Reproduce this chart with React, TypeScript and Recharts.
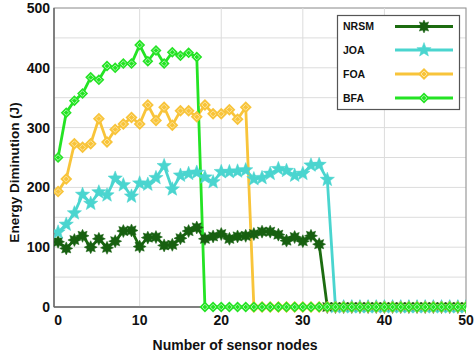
import React from 'react';
import { LineChart, Line, XAxis, YAxis, CartesianGrid, ReferenceArea, ReferenceLine, Label } from 'recharts';

const nodes = [
  0, 1, 2, 3, 4, 5, 6, 7, 8, 9, 10, 11, 12, 13, 14, 15, 16, 17, 18, 19, 20, 21, 22, 23, 24, 25,
  26, 27, 28, 29, 30, 31, 32, 33, 34, 35, 36, 37, 38, 39, 40, 41, 42, 43, 44, 45, 46, 47, 48, 49, 50,
];

const nrsm = [
  109, 98, 112, 119, 100, 114, 99, 110, 127, 128, 101, 116, 117, 103, 104, 115, 127, 133, 114, 118,
  122, 114, 118, 119, 122, 126, 126, 121, 111, 117, 110, 119, 105,
  0, 0, 0, 0, 0, 0, 0, 0, 0, 0, 0, 0, 0, 0, 0, 0, 0, 0,
];

const joa = [
  125, 138, 157, 188, 173, 192, 187, 215, 204, 185, 207, 205, 216, 236, 197, 220, 223, 225, 217, 209,
  226, 226, 227, 229, 214, 216, 223, 231, 228, 220, 223, 237, 238, 213,
  0, 0, 0, 0, 0, 0, 0, 0, 0, 0, 0, 0, 0, 0, 0, 0, 0,
];

const foa = [
  193, 214, 273, 267, 273, 315, 276, 297, 306, 317, 306, 338, 312, 334, 304, 328, 328, 318, 338, 323,
  323, 330, 314, 334,
  0, 0, 0, 0, 0, 0, 0, 0, 0, 0, 0, 0, 0, 0, 0, 0, 0, 0, 0, 0, 0, 0, 0, 0, 0, 0, 0,
];

const bfa = [
  250, 325, 345, 357, 384, 380, 403, 400, 407, 407, 438, 411, 429, 407, 426, 420, 425, 418,
  0, 0, 0, 0, 0, 0, 0, 0, 0, 0, 0, 0, 0, 0, 0, 0, 0, 0, 0, 0, 0, 0, 0, 0, 0, 0, 0, 0, 0, 0, 0, 0, 0,
];

const xTicks = [0, 10, 20, 30, 40, 50];
const yTicks = [0, 50, 100, 150, 200, 250, 300, 350, 400, 450, 500];
const gridX = [10, 20, 30, 40];

const series = [
  { key: 'nrsm', name: 'NRSM', color: '#1c6c10' },
  { key: 'joa', name: 'JOA', color: '#4ad5cf' },
  { key: 'foa', name: 'FOA', color: '#f8c43a' },
  { key: 'bfa', name: 'BFA', color: '#24e324' },
];

const data = nodes.map((n, i) => ({ n, nrsm: nrsm[i], joa: joa[i], foa: foa[i], bfa: bfa[i] }));

const FONT = '"Liberation Sans", Arial, sans-serif';

const starPath = (cx: number, cy: number, n: number, R: number, r: number) => {
  let d = '';
  for (let k = 0; k < 2 * n; k++) {
    const a = -Math.PI / 2 + (k * Math.PI) / n;
    const rad = k % 2 === 0 ? R : r;
    d += (k ? 'L' : 'M') + (cx + rad * Math.cos(a)).toFixed(2) + ',' + (cy + rad * Math.sin(a)).toFixed(2);
  }
  return d + 'Z';
};

const diamond = (cx: number, cy: number, s: number) =>
  `M${cx},${cy - s}L${cx + s},${cy}L${cx},${cy + s}L${cx - s},${cy}Z`;

function Marker({ kind, cx, cy }: { kind: string; cx: number; cy: number }) {
  if (cx == null || cy == null) return null;
  if (kind === 'nrsm') {
    return <path d={starPath(cx, cy, 8, 6.5, 3.8)} fill="#176010" stroke="#176010" strokeWidth={0.5} />;
  }
  if (kind === 'joa') {
    return <path d={starPath(cx, cy, 5, 7.5, 3.2)} fill="#4ad5cf" stroke="#4ad5cf" strokeWidth={0.5} />;
  }
  if (kind === 'foa') {
    return (
      <g>
        <path d={diamond(cx, cy, 6)} fill="#f8c43a" />
        <path d={diamond(cx, cy, 3)} fill="none" stroke="#fde39a" strokeWidth={1} />
      </g>
    );
  }
  return (
    <g>
      <path d={diamond(cx, cy, 5.5)} fill="#24e324" />
      <path d={diamond(cx, cy, 2.8)} fill="none" stroke="#a6f7a6" strokeWidth={1} />
    </g>
  );
}

function LegendBox() {
  const rows = [26.5, 50, 74, 98];
  return (
    <svg width={474} height={356} style={{ position: 'absolute', left: 0, top: 0, pointerEvents: 'none' }}>
      <rect x={337.5} y={15.5} width={122} height={94} fill="#fff" stroke="#555" strokeWidth={1.2} />
      {series.map((s, i) => (
        <g key={s.key}>
          <text x={343} y={rows[i]} dy="0.35em" fontFamily={FONT} fontWeight="bold" fontSize={10.5} fill="#111">
            {s.name}
          </text>
          <line x1={395} x2={453} y1={rows[i]} y2={rows[i]} stroke={s.color} strokeWidth={3} />
          <Marker kind={s.key} cx={424} cy={rows[i]} />
        </g>
      ))}
    </svg>
  );
}

export default function App() {
  return (
    <div style={{ position: 'absolute', left: 0, top: 0, width: 474, height: 356, background: '#fff' }}>
      <LineChart width={474} height={356} data={data} margin={{ top: 8, right: 8, left: 0, bottom: 0 }}>
        <CartesianGrid stroke="#dcdcdc" strokeWidth={1} vertical={false} />
        {gridX.map((v) => (
          <ReferenceLine key={v} x={v} stroke="#dcdcdc" strokeWidth={1} />
        ))}
        <ReferenceArea x1={-0.5} x2={50} y1={0} y2={500} fill="none" stroke="#9a9a9a" strokeWidth={1.2} ifOverflow="visible" />
        <XAxis
          dataKey="n"
          type="number"
          domain={[-0.5, 50]}
          ticks={xTicks}
          allowDataOverflow
          tickLine={false}
          tickSize={6}
          axisLine={{ stroke: '#6a6a6a', strokeWidth: 1.5 }}
          tick={{ fontFamily: FONT, fontWeight: 'bold', fontSize: 14, fill: '#111' }}
          height={49}
        >
          <Label
            value="Number of sensor nodes"
            position="insideBottom"
            offset={6}
            dx={-25}
            style={{ fontFamily: FONT, fontWeight: 'bold', fontSize: 14, fill: '#111' }}
          />
        </XAxis>
        <YAxis
          type="number"
          domain={[0, 500]}
          ticks={yTicks}
          tickFormatter={(v: number) => (v % 100 === 0 ? String(v) : '')}
          tickLine={false}
          tickSize={2}
          axisLine={{ stroke: '#6a6a6a', strokeWidth: 1.5 }}
          tick={{ fontFamily: FONT, fontWeight: 'bold', fontSize: 14, fill: '#111' }}
          width={54}
        >
          <Label
            value="Energy Diminution (J)"
            angle={-90}
            position="center"
            dx={-13}
            dy={15}
            style={{ fontFamily: FONT, fontWeight: 'bold', fontSize: 13.5, fill: '#111', textAnchor: 'middle' }}
          />
        </YAxis>
        {series.map((s) => (
          <Line
            key={s.key}
            dataKey={s.key}
            name={s.name}
            type="linear"
            stroke={s.color}
            strokeWidth={2.8}
            isAnimationActive={false}
            activeDot={false}
            dot={(p: any) => <Marker key={`${s.key}-${p.index}`} kind={s.key} cx={p.cx} cy={p.cy} />}
          />
        ))}
      </LineChart>
      <LegendBox />
    </div>
  );
}
